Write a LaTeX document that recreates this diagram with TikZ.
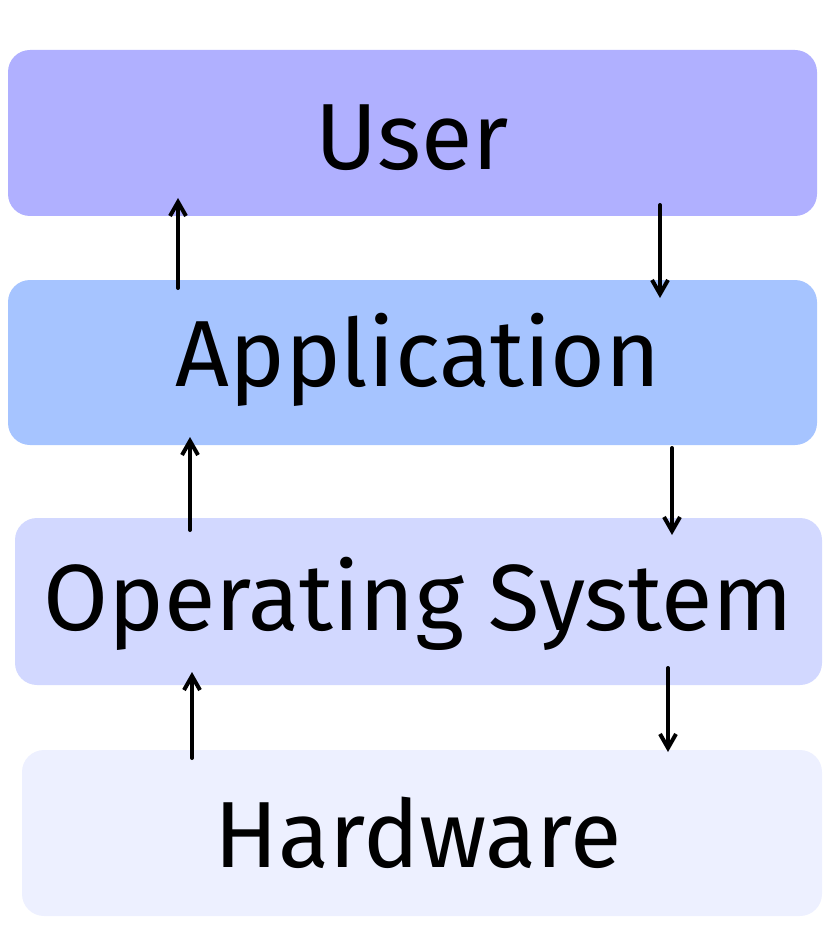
\documentclass[tikz,border=0pt]{standalone}
\usepackage{fontspec}
\setmainfont{Fira Sans}
\usetikzlibrary{arrows.meta}
\definecolor{cU}{RGB}{176,176,255}
\definecolor{cA}{RGB}{166,196,255}
\definecolor{cO}{RGB}{210,216,255}
\definecolor{cH}{RGB}{237,240,255}
\begin{document}
\begin{tikzpicture}[x=1pt,y=-1pt,
  layer/.style={inner sep=0pt,font=\fontsize{94}{100}\selectfont},
  arr/.style={-{Straight Barb[length=14pt,width=16pt]},line width=4pt,line cap=round}]
\useasboundingbox (0,0) rectangle (822,933);
\fill[cU,rounded corners=22pt] (8,50) rectangle (817,216);
\fill[cA,rounded corners=22pt] (8,280) rectangle (817,445);
\fill[cO,rounded corners=22pt] (15,518) rectangle (822,685);
\fill[cH,rounded corners=22pt] (22,750) rectangle (822,916);
\node[layer] (user) at (412,138) {User};
\node[layer] (app) at (418,360) {Application};
\node[layer] (os) at (418,604) {Operating System};
\node[layer] (hw) at (418,833) {Hardware};
\coordinate (a1) at (178,288); \coordinate (b1) at (178,198);
\coordinate (a2) at (660,205); \coordinate (b2) at (660,298);
\coordinate (a3) at (190,530); \coordinate (b3) at (190,437);
\coordinate (a4) at (672,448); \coordinate (b4) at (672,535);
\coordinate (a5) at (192,758); \coordinate (b5) at (192,672);
\coordinate (a6) at (668,668); \coordinate (b6) at (668,752);
\foreach \i in {1,...,6} \draw[arr] (a\i) -- (b\i);
\end{tikzpicture}
\end{document}
